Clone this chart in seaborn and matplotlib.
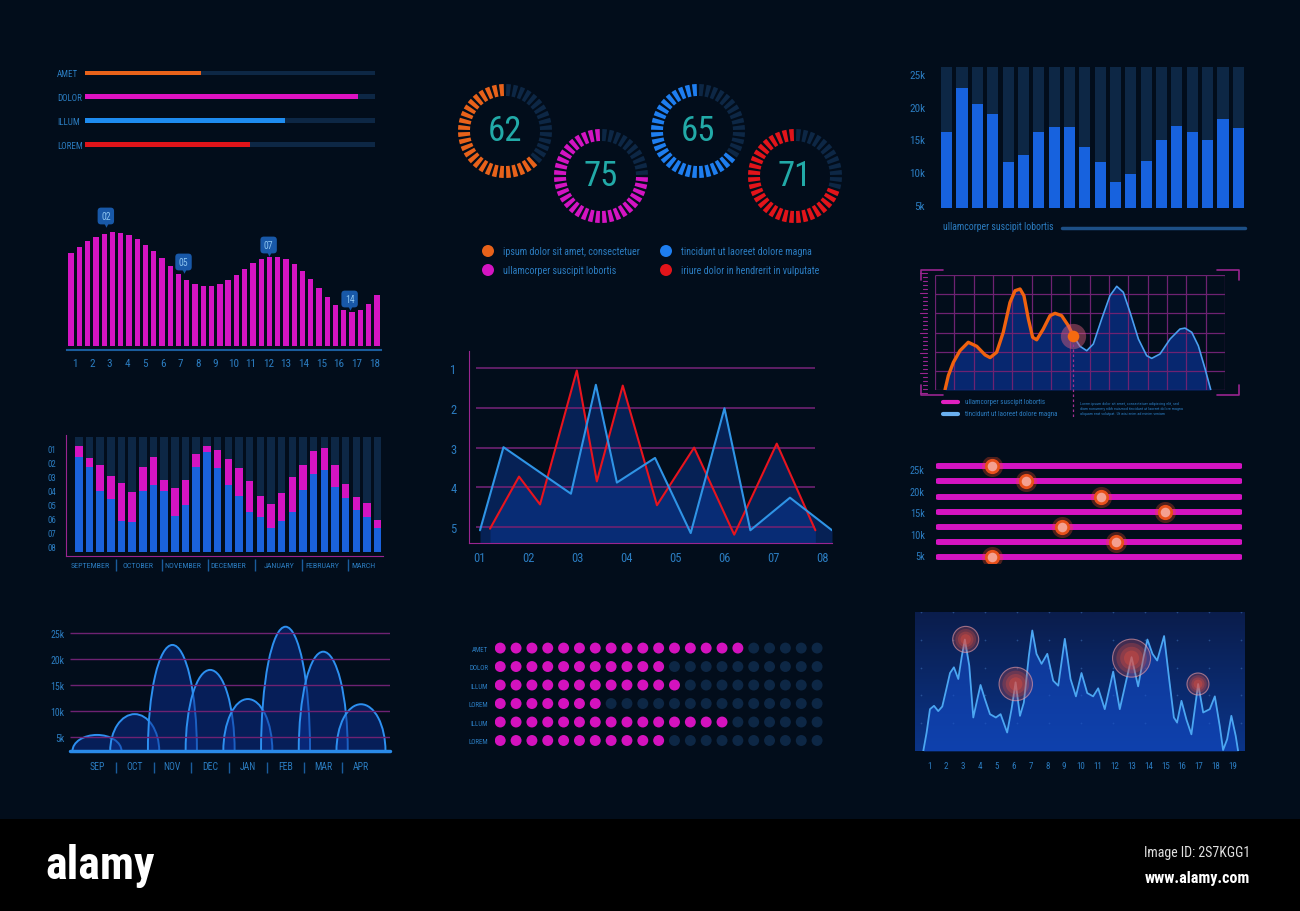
import numpy as np
import pandas as pd
import matplotlib.pyplot as plt
import matplotlib.patches as mpatches
from matplotlib.lines import Line2D
from matplotlib.colors import LinearSegmentedColormap, to_rgba
import seaborn as sns

# ---------------- data ----------------
prog_labels = ['AMET', 'DOLOR', 'ILLUM', 'LOREM']
prog_values = [40, 94, 69, 57]

ring_values = [62, 75, 65, 71]
ring_legend = ['ipsum dolor sit amet, consectetuer', 'ullamcorper suscipit lobortis',
               'tincidunt ut laoreet dolore magna', 'iriure dolor in hendrerit in vulputate']

col_values = [16.2, 22.8, 20.4, 18.9, 11.6, 12.6, 16.1, 16.9, 16.9, 13.9,
              11.6, 8.6, 9.7, 11.7, 14.9, 17.0, 16.1, 14.9, 18.1, 16.7]
col_ticks = ['5k', '10k', '15k', '20k', '25k']

wave_bars = [93, 99, 105, 109, 112, 114, 113, 111, 107, 101, 95, 88, 80, 72, 66, 62, 60, 60, 62,
             66, 71, 77, 83, 87, 89, 89, 87, 82, 75, 67, 58, 49, 41, 36, 34, 36, 42, 51]
callout_x = [4.2, 13.6, 23.9, 33.7]
callout_y = [130, 84, 101, 47]
callout_txt = ['02', '05', '07', '14']

stack_blue = [7.40, 6.74, 5.02, 4.43, 2.88, 2.76, 5.02, 5.43, 5.02, 3.24, 4.00, 6.74, 7.76, 6.64, 5.43,
              4.62, 3.48, 3.12, 2.33, 2.88, 3.48, 5.07, 6.21, 6.52, 5.31, 4.52, 3.64, 3.17, 2.33]
stack_top = [8.24, 7.36, 6.86, 6.05, 5.57, 4.95, 6.74, 7.40, 5.79, 5.19, 5.79, 7.64, 8.24, 7.95, 7.29,
             6.64, 5.69, 4.67, 4.07, 4.86, 6.02, 6.86, 7.88, 8.05, 6.88, 5.50, 4.55, 4.12, 2.95]
months_long = ['SEPTEMBER', 'OCTOBER', 'NOVEMBER', 'DECEMBER', 'JANUARY', 'FEBRUARY', 'MARCH']
months_long_pos = [1.03, 5.53, 9.76, 13.98, 18.76, 22.8, 26.64]
months_long_sep = [3.47, 7.79, 12.1, 16.5, 20.9, 25.2]

red_x = [1.205, 1.798, 2.228, 2.98, 3.39, 3.92, 4.62, 5.38, 6.20, 7.07, 7.86]
red_y = [5.04, 3.73, 4.43, 1.06, 3.85, 1.44, 4.45, 3.0, 5.19, 2.90, 5.08]
blue_x = [1.0, 1.48, 2.86, 3.37, 3.80, 4.58, 5.31, 6.0, 6.53, 7.34, 8.20]
blue_y = [5.08, 2.99, 4.16, 1.42, 3.88, 3.26, 5.15, 2.01, 5.08, 4.26, 5.08]

area_x = [0.52, 0.69, 0.95, 1.29, 1.72, 2.16, 2.59, 2.85, 3.19, 3.53, 3.88, 4.14, 4.40, 4.60, 4.83,
          5.05, 5.26, 5.60, 5.95, 6.21, 6.55, 6.90, 7.15, 7.50, 7.85, 8.19, 8.62, 9.05, 9.40, 9.74,
          10.09, 10.52, 10.95, 11.21, 11.64, 12.16, 12.67, 12.93, 13.28, 13.62, 13.97, 14.26]
area_y = [0.02, 0.75, 1.44, 2.05, 2.49, 2.28, 1.83, 1.69, 1.97, 3.01, 4.57, 5.18, 5.27, 4.92, 3.70,
          2.75, 2.62, 3.18, 3.88, 4.00, 3.88, 3.35, 2.83, 2.28, 2.05, 2.40, 3.70, 4.92, 5.41, 5.10,
          4.05, 2.66, 1.79, 1.65, 1.88, 2.66, 3.18, 3.23, 3.01, 2.31, 1.10, 0.02]
area_marker = 22

slider_levels = [25.7, 22.2, 18.5, 15.0, 11.5, 8.0, 4.5]
slider_values = [18, 29, 54, 75, 41, 59, 18]
slider_ticks = [5, 10, 15, 20, 25]

arch_months = ['SEP', 'OCT', 'NOV', 'DEC', 'JAN', 'FEB', 'MAR', 'APR']
arch_heights = [5.4, 9.4, 22.7, 17.9, 12.3, 26.2, 21.4, 11.3]

dot_labels = ['AMET', 'DOLOR', 'ILLUM', 'LOREM', 'ILLUM', 'LOREM']
dot_counts = [16, 11, 12, 7, 15, 11]
dot_total = 21

osc_x = [0.644, 0.842, 1.04, 1.28, 1.53, 1.77, 1.99, 2.23, 2.46, 2.72, 2.92, 3.11, 3.37, 3.61, 3.85,
         4.04, 4.30, 4.60, 4.95, 5.23, 5.62, 5.88, 6.12, 6.38, 6.61, 6.91, 7.11, 7.36, 7.66, 8.00,
         8.35, 8.65, 9.04, 9.38, 9.70, 10.03, 10.37, 10.72, 11.02, 11.41, 11.91, 12.30, 12.66, 13.00,
         13.39, 13.69, 13.94, 14.24, 14.52, 14.93, 15.23, 15.51, 15.70, 15.96, 16.26, 16.55, 16.95,
         17.25, 17.64, 17.94, 18.23, 18.43, 18.67, 18.92, 19.18, 19.32]
osc_y = [0, 13.3, 30.1, 32.5, 28.7, 32.0, 43.4, 56.1, 60.2, 51.8, 67.5, 80.2, 61.4, 24.1, 37.3,
         47.5, 37.3, 26.5, 24.1, 26.5, 13.3, 30.1, 49.4, 25.3, 34.9, 68.7, 86.7, 69.9, 62.7, 69.9,
         50.6, 47.0, 80.7, 51.8, 39.3, 56.1, 41.7, 39.3, 45.1, 30.1, 57.1, 30.1, 49.4, 67.5,
         46.5, 66.3, 80.2, 69.9, 65.1, 82.7, 51.8, 24.1, 20.5, 36.1, 22.4, 12.0, 48.2,
         27.7, 30.1, 39.3, 18.1, 0.7, 8.4, 25.3, 10.8, 0]
glow_x = [3.16, 6.13, 13.0, 16.94]
glow_y = [80.3, 48.2, 66.8, 48.2]
glow_r = [13, 16.7, 19, 11]

# ---------------- style ----------------
sns.set_style('dark')
plt.rcParams['font.family'] = ['Roboto Condensed', 'Liberation Sans Narrow', 'Roboto', 'DejaVu Sans']
plt.rcParams['patch.force_edgecolor'] = False

BG = '#020d1b'
LABEL = '#2b7cc0'
MAGENTA = '#d414c2'
GRID = '#6e2272'
AXIS = '#9a2590'
TRACK = '#0d2745'
W, H = 1300, 912

fig = plt.figure(figsize=(13, 9.12), dpi=100)
fig.patch.set_facecolor(BG)


def fx(x):
    return x / W


def fy(y):
    return 1 - y / H


def ftext(x, y, s, **kw):
    fig.text(fx(x), fy(y), s, **kw)


def fline(xs, ys, **kw):
    fig.add_artist(Line2D([fx(v) for v in xs], [fy(v) for v in ys], **kw))


def panel(x, y, w, h):
    ax = fig.add_axes([x / W, 1 - (y + h) / H, w / W, h / H])
    ax.set_facecolor('none')
    for s in ax.spines.values():
        s.set_visible(False)
    ax.grid(False)
    ax.tick_params(colors=LABEL, length=0, labelsize=7)
    return ax


# 1. progress bars
ax = panel(85, 62, 290, 95)
sns.barplot(x=[100] * 4, y=prog_labels, color=TRACK, width=0.2, saturation=1, linewidth=0, ax=ax)
sns.barplot(x=prog_values, y=prog_labels, hue=prog_labels,
            palette=['#e8621a', '#df12c2', '#1e8cf0', '#e0141a'],
            width=0.2, saturation=1, linewidth=0, legend=False, ax=ax)
ax.set(xlim=(0, 100), ylim=(3.5, -0.5), xlabel='', ylabel='', xticks=[])
ax.tick_params(axis='y', pad=20, labelsize=6.5)
for t in ax.get_yticklabels():
    t.set_ha('left')

# 2. rings
ax = panel(450, 75, 400, 215)
ax.set(xlim=(450, 850), ylim=(H - 290, H - 75), xticks=[], yticks=[])
ring_cfg = [(505, 132, '#e8621a'), (601, 177, '#d414c2'), (698, 132, '#1e7ef0'), (795, 177, '#e2141a')]
nseg = 40
for (cx, cy, col), val in zip(ring_cfg, ring_values):
    lit = round(val / 100 * nseg)
    for k in range(nseg):
        t1 = 90 + k * 360 / nseg + 1.6
        t2 = 90 + (k + 1) * 360 / nseg - 1.6
        ax.add_patch(mpatches.Wedge((cx, H - cy), 47, t1, t2, width=12,
                                    color=col if k < lit else TRACK, lw=0))
    ax.text(cx, H - cy, str(val), ha='center', va='center', color='#22aaa8', fontsize=25)
leg_pos = [(488, 252), (488, 271), (666, 252), (666, 271)]
leg_cols = ['#e8621a', '#d414c2', '#1e7ef0', '#e2141a']
for (lx, ly), col, txt in zip(leg_pos, leg_cols, ring_legend):
    ax.add_patch(mpatches.Circle((lx, H - ly), 6, color=col, lw=0))
    ax.text(lx + 15, H - ly, txt, va='center', ha='left', color=LABEL, fontsize=7.2)

# 3. top-right columns
ax = panel(939, 66, 307, 143)
idx = list(range(len(col_values)))
sns.barplot(x=idx, y=[26] * len(idx), color=TRACK, width=0.72, saturation=1, linewidth=0, ax=ax)
sns.barplot(x=idx, y=col_values, color='#1762de', width=0.72, saturation=1, linewidth=0, ax=ax)
ax.set(xlim=(-0.5, len(idx) - 0.5), ylim=(4.6, 26.3), xlabel='', ylabel='', xticks=[])
ax.set_yticks([5, 10, 15, 20, 25], col_ticks)
ax.tick_params(axis='y', length=7, color='#c8324e', width=1, pad=3, labelsize=8)
ftext(943, 227, 'ullamcorper suscipit lobortis', color=LABEL, fontsize=7, va='center')
fline([1062, 1245], [229, 229], color='#1d4f86', lw=2.5)

# 4. magenta bar wave
ax = panel(67, 200, 314, 151)
sns.barplot(x=list(range(len(wave_bars))), y=wave_bars, color=MAGENTA, width=0.64, saturation=1,
            linewidth=0, ax=ax)
ax.set(xlim=(-0.5, len(wave_bars) - 0.5), ylim=(-4, 147), xlabel='', ylabel='', yticks=[])
ax.spines['bottom'].set_visible(True)
ax.spines['bottom'].set_color('#1a5c9c')
ax.spines['bottom'].set_linewidth(1.5)
ax.set_xticks(np.linspace(0.4, 36.7, 18), [str(i) for i in range(1, 19)])
ax.tick_params(axis='x', length=3, color=LABEL, pad=3, labelsize=8)
for cx_, cy_, tx in zip(callout_x, callout_y, callout_txt):
    ax.scatter([cx_], [cy_ - 8], marker='v', s=22, color='#1858a8', lw=0, zorder=4)
    ax.text(cx_, cy_, tx, ha='center', va='center', color='#8cc4f0', fontsize=7, zorder=5,
            bbox=dict(boxstyle='round,pad=0.35', fc='#1858a8', ec='none'))

# 5. stacked columns
ax = panel(66, 436, 317, 121)
xs = np.arange(len(stack_blue))
base = 0.667
ax.bar(xs, 8.83 - base, bottom=base, width=0.7, color=TRACK, lw=0)
ax.bar(xs, np.array(stack_top) - base, bottom=base, width=0.7, color=MAGENTA, lw=0)
ax.bar(xs, np.array(stack_blue) - base, bottom=base, width=0.7, color='#1a62dc', lw=0)
ax.set(xlim=(-1.2, 28.5), ylim=(0.357, 9.0))
for s in ['left', 'bottom']:
    ax.spines[s].set_visible(True)
    ax.spines[s].set_color(AXIS)
ax.set_yticks(range(8, 0, -1), ['%02d' % i for i in range(1, 9)])
ax.tick_params(axis='y', pad=7, labelsize=6.3)
ax.set_xticks(months_long_pos, months_long)
ax.tick_params(axis='x', pad=4, labelsize=5.8)
ax.vlines(months_long_sep, -0.71, 0.14, color='#1a5c9c', lw=1, clip_on=False)

# 6. center line chart
ax = panel(469, 352, 363, 192)
ax.set(xlim=(0.775, 8.2), ylim=(5.40, 0.57))
ax.hlines(range(1, 6), 0.92, 7.86, color=GRID, lw=1.2)
ax.fill_between(blue_x, blue_y, 5.40, color='#0b3a9e', alpha=0.45, lw=0)
ax.fill_between(red_x, red_y, 5.40, color='#0b3a9e', alpha=0.45, lw=0)
sns.lineplot(x=red_x, y=red_y, sort=False, color='#e8141e', lw=1.5, ax=ax)
sns.lineplot(x=blue_x, y=blue_y, sort=False, color='#2f94e6', lw=1.5, ax=ax)
for s in ['left', 'bottom']:
    ax.spines[s].set_visible(True)
    ax.spines[s].set_color(AXIS)
ax.set_xticks(range(1, 9), ['%02d' % i for i in range(1, 9)])
ax.set_yticks(range(1, 6), [str(i) for i in range(1, 6)])
ax.tick_params(axis='x', pad=6, labelsize=9)
ax.tick_params(axis='y', pad=9, labelsize=9)

# 7. grid area chart
ax = panel(935, 276, 290, 115)
ax.set(xlim=(0, 15), ylim=(0, 6), xticks=[], yticks=[])
ax.vlines(range(16), 0, 6, color=GRID, lw=0.9)
ax.hlines(range(7), 0, 15, color=GRID, lw=0.9)
ax.fill_between(area_x, area_y, 0, color='#0b3aa8', alpha=0.6, lw=0)
sns.lineplot(x=area_x[area_marker:], y=area_y[area_marker:], sort=False, color='#4a9ff0', lw=1.2, ax=ax)
sns.lineplot(x=area_x[:area_marker + 1], y=area_y[:area_marker + 1], sort=False, color='#f0620f', lw=2.4, ax=ax)
ax.scatter([area_x[area_marker]], [area_y[area_marker]], s=330, color='#e06080', alpha=0.45, lw=0, zorder=5)
ax.scatter([area_x[area_marker]], [area_y[area_marker]], s=70, color='#f56a10', lw=0, zorder=6)
fline([1073, 1073], [345, 420], color='#a03090', lw=0.9, ls=(0, (2, 2)))
for (bx, by, dx, dy) in [(921, 271, 1, 1), (1239, 271, -1, 1), (921, 396, 1, -1), (1239, 396, -1, -1)]:
    fline([bx + 22 * dx, bx, bx], [by, by, by + 10 * dy], color=AXIS, lw=1.2)
for k, ty in enumerate(np.linspace(274, 394, 31)):
    fline([927 - (7 if k % 5 == 0 else 4), 927], [ty, ty], color=AXIS, lw=0.8)
fline([943, 958], [403, 403], color='#e020c0', lw=3)
fline([943, 958], [415, 415], color='#6ab0f0', lw=3)
ftext(965, 403, 'ullamcorper suscipit lobortis', color=LABEL, fontsize=5, va='center')
ftext(965, 415, 'tincidunt ut laoreet dolore magna', color=LABEL, fontsize=5, va='center')
for k, line in enumerate(['Lorem ipsum dolor sit amet, consectetuer adipiscing elit, sed',
                          'diam nonummy nibh euismod tincidunt ut laoreet dolore magna',
                          'aliquam erat volutpat. Ut wisi enim ad minim veniam']):
    ftext(1080, 404 + 5 * k, line, color=LABEL, fontsize=3, va='center')

# 8. sliders
ax = panel(936, 458, 306, 106)
ax.set(xlim=(-0.66, 100.66), ylim=(3.14, 27.8), xticks=[])
tracks = ax.hlines(slider_levels, 0, 100, color=MAGENTA, lw=4.3)
tracks.set_capstyle('round')
ax.scatter(slider_values, slider_levels, s=230, color='#ff4a20', alpha=0.3, lw=0, zorder=3)
sns.scatterplot(x=slider_values, y=slider_levels, s=80, color='#f4a090', edgecolor='#e8501a',
                linewidth=2, zorder=4, ax=ax)
ax.set_yticks(slider_ticks, ['%dk' % v for v in slider_ticks])
ax.tick_params(axis='y', pad=8, labelsize=7.5)

# 9. arches
ax = panel(70, 622, 320, 130)
ax.set(xlim=(-0.716, 7.77), ylim=(2.31, 27.3))
ax.hlines([5, 10, 15, 20, 25], -0.716, 7.77, color=GRID, lw=1)
for i, h in enumerate(arch_heights):
    ax.add_patch(mpatches.Ellipse((i, 2.31), 1.3, 2 * (h - 2.31),
                                  fc=to_rgba('#0b3096', 0.5), ec='#2d90f0', lw=1.4))
ax.axhline(2.31, color='#2a8ae8', lw=2.5, clip_on=False)
ax.set_xticks(range(8), arch_months)
ax.tick_params(axis='x', pad=7, labelsize=7)
ax.set_yticks([5, 10, 15, 20, 25], ['5k', '10k', '15k', '20k', '25k'])
ax.tick_params(axis='y', pad=4, labelsize=7)
ax.vlines(np.arange(0.5, 7), 0.2, -2.0, color='#1a5c9c', lw=1, clip_on=False)

# 10. dot matrix
ax = panel(495, 640, 330, 110)
rows = []
for r, n in enumerate(dot_counts):
    for c in range(dot_total):
        rows.append({'row': r, 'col': c, 'state': 'on' if c < n else 'off'})
dots = pd.DataFrame(rows)
sns.scatterplot(data=dots, x='col', y='row', hue='state', palette={'on': '#d412be', 'off': TRACK},
                s=62, linewidth=0, legend=False, ax=ax)
ax.set(xlim=(-0.33, 20.5), ylim=(5.46, -0.49), xlabel='', ylabel='', xticks=[])
ax.set_yticks(range(len(dot_labels)), dot_labels)
ax.tick_params(axis='y', pad=5, labelsize=5)

# 11. oscillation panel
ax = panel(915, 613, 330, 139)
grad = np.linspace(0, 1, 64).reshape(-1, 1)
ax.imshow(grad, extent=(0.152, 19.73, 0, 100), aspect='auto', origin='lower', zorder=0,
          cmap=LinearSegmentedColormap.from_list('panel', ['#0b3488', '#0a1d4c']))
for gy in [20, 40, 60, 80, 100]:
    ax.scatter(np.arange(0.5, 19.7, 1.9), [gy] * 11, s=1.5, color='#3a6ab0', alpha=0.6, lw=0)
ax.fill_between(osc_x, osc_y, 0, color='#124ccc', alpha=0.55, lw=0)
sns.lineplot(x=osc_x, y=osc_y, sort=False, color='#4ba6f2', lw=1.3, ax=ax)
gx, gyv, gr = np.array(glow_x), np.array(glow_y), np.array(glow_r)
for frac, a in [(1.0, 0.25), (0.8, 0.25), (0.6, 0.28), (0.4, 0.32)]:
    ax.scatter(gx, gyv, s=(2 * gr * frac * 0.72) ** 2, color='#e8503e', alpha=a, lw=0, zorder=5)
ax.scatter(gx, gyv, s=(2 * gr * 0.72) ** 2, facecolor='none', edgecolor='#f0a0a8', lw=0.8,
           alpha=0.6, zorder=6)
ax.set(xlim=(0.152, 19.73), ylim=(0, 100), yticks=[])
ax.set_xticks(range(1, 20), [str(i) for i in range(1, 20)])
ax.set_xticks(np.arange(0.2, 19.8, 0.2), minor=True)
ax.tick_params(axis='x', which='major', length=4, color=LABEL, pad=3, labelsize=6.5)
ax.tick_params(axis='x', which='minor', length=2, color=LABEL)

# footer
fig.add_artist(mpatches.Rectangle((0, 0), 1, 92 / H, color='black', lw=0))
ftext(100, 866, 'alamy', color='white', fontsize=33, fontweight='bold', ha='center', va='center')
ftext(1250, 853, 'Image ID: 2S7KGG1', color='#e0e0e0', fontsize=10, ha='right', va='center')
ftext(1250, 879, 'www.alamy.com', color='white', fontsize=11.5, fontweight='bold', ha='right', va='center')

fig.savefig('out.png', dpi=100, facecolor=BG)
